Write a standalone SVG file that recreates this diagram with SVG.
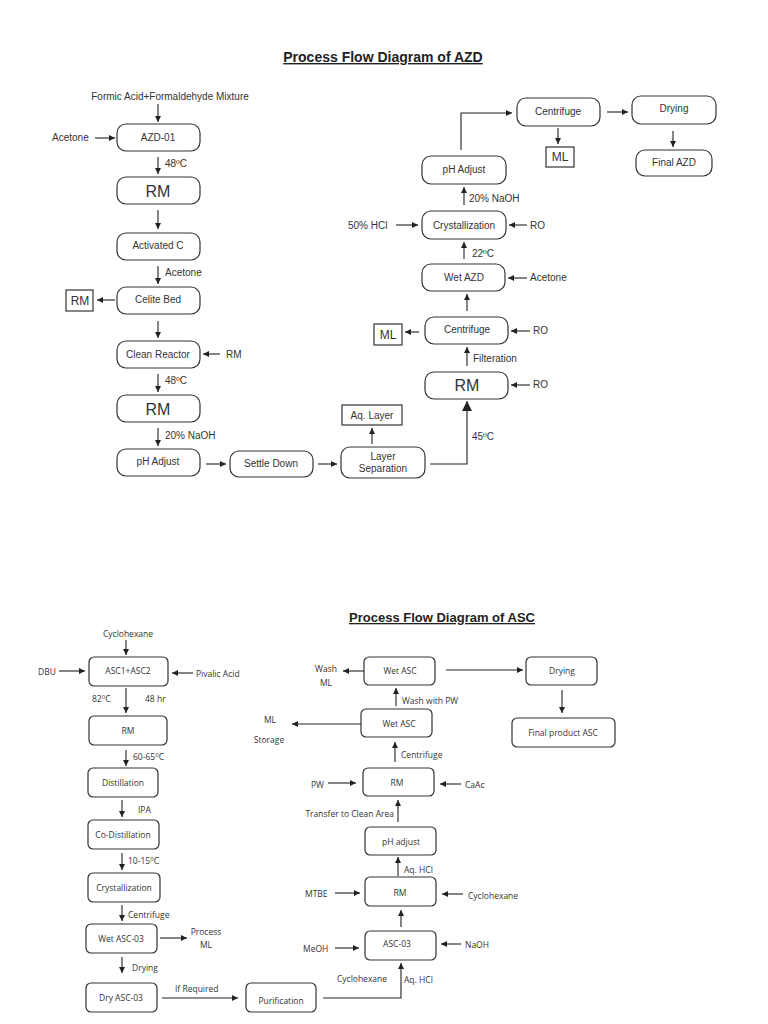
<svg xmlns="http://www.w3.org/2000/svg" width="768" height="1024" viewBox="0 0 768 1024">
<defs>
<marker id="a" markerWidth="8" markerHeight="8" refX="6" refY="3" orient="auto" markerUnits="userSpaceOnUse"><path d="M0,0 L6,3 L0,6 z" fill="#222"/></marker>
<marker id="b" markerWidth="12" markerHeight="12" refX="10" refY="5" orient="auto" markerUnits="userSpaceOnUse"><path d="M0,0 L10,5 L0,10 z" fill="#222"/></marker>
</defs>
<style>
rect{fill:#fff;stroke:#333;stroke-width:1.2}
text{font-family:"Liberation Sans",Arial,sans-serif;font-size:10px;fill:#333}
.c{text-anchor:middle}
.big{font-size:16px}
.t{font-size:14px;font-weight:bold;text-decoration:underline;text-anchor:middle;fill:#222}
.s{font-family:"Open Sans","Liberation Sans",sans-serif;font-size:8.5px}
line,polyline{stroke:#222;stroke-width:1.1;fill:none;marker-end:url(#a)}
</style>
<rect x="0" y="0" width="768" height="1024" style="fill:#fff;stroke:none"/>
<text class="t" x="383" y="62">Process Flow Diagram of AZD</text>
<text class="t" x="442" y="622" style="font-size:13px">Process Flow Diagram of ASC</text>

<g id="azd-nodes">
<g id="n1"><rect x="117" y="124" width="83" height="27" rx="9"/><text class="c" x="158" y="141">AZD-01</text></g>
<g id="n2"><rect x="117" y="177" width="83" height="27" rx="9"/><text class="c big" x="158" y="197">RM</text></g>
<g id="n3"><rect x="117" y="233" width="83" height="27" rx="9"/><text class="c" x="158" y="249">Activated C</text></g>
<g id="n4"><rect x="117" y="287" width="83" height="27" rx="9"/><text class="c" x="158" y="303">Celite Bed</text></g>
<g id="n5"><rect x="66" y="290" width="27" height="21" rx="0"/><text class="c" x="80" y="305" style="font-size:12px">RM</text></g>
<g id="n6"><rect x="117" y="341" width="83" height="27" rx="9"/><text class="c" x="158" y="358">Clean Reactor</text></g>
<g id="n7"><rect x="117" y="395" width="83" height="27" rx="9"/><text class="c big" x="158" y="415">RM</text></g>
<g id="n8"><rect x="117" y="449" width="83" height="27" rx="9"/><text class="c" x="158" y="465">pH Adjust</text></g>
<g id="n9"><rect x="230" y="451" width="83" height="26" rx="9"/><text class="c" x="271" y="467">Settle Down</text></g>
<g id="n10"><rect x="341" y="447" width="84" height="31" rx="9"/><text class="c" x="383" y="460">Layer</text><text class="c" x="383" y="472">Separation</text></g>
<g id="n11"><rect x="342" y="405" width="60" height="20" rx="0"/><text class="c" x="372" y="419">Aq. Layer</text></g>
<g id="n12"><rect x="425" y="372" width="83" height="27" rx="9"/><text class="c big" x="467" y="391">RM</text></g>
<g id="n13"><rect x="425" y="317" width="83" height="27" rx="9"/><text class="c" x="467" y="333">Centrifuge</text></g>
<g id="n14"><rect x="374" y="324" width="28" height="21" rx="0"/><text class="c" x="388" y="339" style="font-size:12px">ML</text></g>
<g id="n15"><rect x="422" y="264" width="83" height="27" rx="9"/><text class="c" x="464" y="281">Wet AZD</text></g>
<g id="n16"><rect x="422" y="211" width="84" height="28" rx="9"/><text class="c" x="464" y="229">Crystallization</text></g>
<g id="n17"><rect x="422" y="156" width="84" height="28" rx="9"/><text class="c" x="464" y="173">pH Adjust</text></g>
<g id="n18"><rect x="517" y="98" width="83" height="28" rx="9"/><text class="c" x="558" y="115">Centrifuge</text></g>
<g id="n19"><rect x="546" y="147" width="28" height="20" rx="0"/><text class="c" x="560" y="161" style="font-size:12px">ML</text></g>
<g id="n20"><rect x="632" y="96" width="84" height="28" rx="9"/><text class="c" x="674" y="112">Drying</text></g>
<g id="n21"><rect x="636" y="150" width="76" height="26" rx="9"/><text class="c" x="674" y="166">Final AZD</text></g>
</g>

<g id="azd-labels">
<text class="c" x="170" y="100">Formic Acid+Formaldehyde Mixture</text>
<text x="52" y="141">Acetone</text>
<text x="165" y="167">48ºC</text>
<text x="165" y="276">Acetone</text>
<text x="226" y="358">RM</text>
<text x="165" y="384">48ºC</text>
<text x="165" y="439">20% NaOH</text>
<text x="472" y="440">45ºC</text>
<text x="533" y="388">RO</text>
<text x="473" y="362">Filteration</text>
<text x="533" y="334">RO</text>
<text x="530" y="281">Acetone</text>
<text x="472" y="257">22ºC</text>
<text x="348" y="229">50% HCl</text>
<text x="530" y="229">RO</text>
<text x="469" y="202">20% NaOH</text>
</g>

<g id="azd-connectors">
<line x1="158" y1="104" x2="158" y2="122"/>
<line x1="95" y1="138" x2="115" y2="138"/>
<line x1="158" y1="157" x2="158" y2="174"/>
<line x1="158" y1="210" x2="158" y2="229"/>
<line x1="158" y1="266" x2="158" y2="284"/>
<line x1="115" y1="300" x2="97" y2="300"/>
<line x1="158" y1="321" x2="158" y2="338"/>
<line x1="220" y1="354" x2="203" y2="354"/>
<line x1="158" y1="374" x2="158" y2="392"/>
<line x1="158" y1="428" x2="158" y2="446"/>
<line x1="206" y1="464" x2="226" y2="464"/>
<line x1="318" y1="464" x2="337" y2="464"/>
<line x1="372" y1="444" x2="372" y2="428"/>
<polyline points="430,464 467,464 467,401" style="marker-end:url(#b)"/>
<line x1="530" y1="385" x2="511" y2="385"/>
<line x1="467" y1="366" x2="467" y2="347"/>
<line x1="419" y1="332" x2="405" y2="332"/>
<line x1="530" y1="331" x2="511" y2="331"/>
<line x1="467" y1="311" x2="467" y2="294"/>
<line x1="527" y1="278" x2="508" y2="278"/>
<line x1="464" y1="259" x2="464" y2="242"/>
<line x1="396" y1="225" x2="418" y2="225"/>
<line x1="527" y1="225" x2="509" y2="225"/>
<line x1="464" y1="205" x2="464" y2="187"/>
<polyline points="461,150 461,113 512,113"/>
<line x1="558" y1="128" x2="558" y2="144"/>
<line x1="607" y1="112" x2="628" y2="112"/>
<line x1="673" y1="131" x2="673" y2="147"/>
</g>

<g id="asc-nodes">
<g id="m1"><rect x="89" y="657" width="79" height="29" rx="5"/><text class="c s" x="128" y="674">ASC1+ASC2</text></g>
<g id="m2"><rect x="89" y="716" width="78" height="29" rx="5"/><text class="c s" x="128" y="734">RM</text></g>
<g id="m3"><rect x="88" y="768" width="70" height="29" rx="5"/><text class="c s" x="123" y="786">Distillation</text></g>
<g id="m4"><rect x="88" y="820" width="71" height="29" rx="5"/><text class="c s" x="123" y="838">Co-Distillation</text></g>
<g id="m5"><rect x="88" y="873" width="72" height="29" rx="5"/><text class="c s" x="124" y="891">Crystallization</text></g>
<g id="m6"><rect x="86" y="924" width="71" height="29" rx="5"/><text class="c s" x="121" y="942">Wet ASC-03</text></g>
<g id="m7"><rect x="86" y="983" width="71" height="29" rx="5"/><text class="c s" x="121" y="1001">Dry ASC-03</text></g>
<g id="m8"><rect x="246" y="983" width="70" height="29" rx="5"/><text class="c s" x="281" y="1004">Purification</text></g>
<g id="m9"><rect x="365" y="931" width="71" height="29" rx="5"/><text class="c s" x="397" y="947">ASC-03</text></g>
<g id="m10"><rect x="365" y="877" width="71" height="29" rx="5"/><text class="c s" x="400" y="896">RM</text></g>
<g id="m11"><rect x="365" y="827" width="71" height="28" rx="5"/><text class="c s" x="401" y="845">pH adjust</text></g>
<g id="m12"><rect x="363" y="768" width="71" height="28" rx="5"/><text class="c s" x="397" y="786">RM</text></g>
<g id="m13"><rect x="361" y="709" width="71" height="28" rx="5"/><text class="c s" x="399" y="727">Wet ASC</text></g>
<g id="m14"><rect x="364" y="657" width="71" height="28" rx="5"/><text class="c s" x="400" y="674">Wet ASC</text></g>
<g id="m15"><rect x="526" y="657" width="71" height="28" rx="5"/><text class="c s" x="562" y="674">Drying</text></g>
<g id="m16"><rect x="512" y="718" width="103" height="29" rx="5"/><text class="c s" x="563" y="736">Final product ASC</text></g>
</g>

<g id="asc-labels">
<text class="c s" x="128" y="637">Cyclohexane</text>
<text class="s" x="38" y="675">DBU</text>
<text class="s" x="196" y="677">Pivalic Acid</text>
<text class="s" x="92" y="702">82<tspan dy="-3" font-size="6">0</tspan><tspan dy="3">C</tspan></text>
<text class="s" x="145" y="702">48 hr</text>
<text class="s" x="133" y="760">60-65<tspan dy="-3" font-size="6">0</tspan><tspan dy="3">C</tspan></text>
<text class="s" x="138" y="813">IPA</text>
<text class="s" x="128" y="864">10-15<tspan dy="-3" font-size="6">0</tspan><tspan dy="3">C</tspan></text>
<text class="s" x="128" y="918">Centrifuge</text>
<text class="c s" x="206" y="935">Process</text>
<text class="c s" x="206" y="948">ML</text>
<text class="s" x="132" y="971">Drying</text>
<text class="s" x="175" y="992">If Required</text>
<text class="c s" x="362" y="982">Cyclohexane</text>
<text class="s" x="404" y="983">Aq. HCl</text>
<text class="s" x="303" y="952">MeOH</text>
<text class="s" x="465" y="948">NaOH</text>
<text class="s" x="305" y="897">MTBE</text>
<text class="s" x="468" y="899">Cyclohexane</text>
<text class="s" x="404" y="873">Aq. HCl</text>
<text class="s" x="394" y="817" text-anchor="end">Transfer to Clean Area</text>
<text class="s" x="311" y="788">PW</text>
<text class="s" x="465" y="788">CaAc</text>
<text class="s" x="401" y="758">Centrifuge</text>
<text class="c s" x="270" y="723">ML</text>
<text class="c s" x="269" y="743">Storage</text>
<text class="s" x="402" y="704">Wash with PW</text>
<text class="c s" x="326" y="672">Wash</text>
<text class="c s" x="326" y="686">ML</text>
</g>

<g id="asc-connectors">
<line x1="126" y1="640" x2="126" y2="655"/>
<line x1="59" y1="671" x2="85" y2="671"/>
<line x1="193" y1="673" x2="172" y2="673"/>
<line x1="126" y1="688" x2="126" y2="713"/>
<line x1="126" y1="750" x2="126" y2="766"/>
<line x1="122" y1="800" x2="122" y2="817"/>
<line x1="122" y1="853" x2="122" y2="870"/>
<line x1="122" y1="905" x2="122" y2="921"/>
<line x1="160" y1="938" x2="187" y2="938"/>
<line x1="122" y1="957" x2="122" y2="973"/>
<line x1="162" y1="998" x2="238" y2="998"/>
<polyline points="323,998 401,998 401,963"/>
<line x1="335" y1="948" x2="359" y2="948"/>
<line x1="461" y1="944" x2="441" y2="944"/>
<line x1="401" y1="927" x2="401" y2="910"/>
<line x1="335" y1="893" x2="360" y2="893"/>
<line x1="463" y1="894" x2="442" y2="894"/>
<line x1="398" y1="876" x2="398" y2="857"/>
<line x1="398" y1="822" x2="398" y2="800"/>
<line x1="328" y1="783" x2="356" y2="783"/>
<line x1="461" y1="784" x2="440" y2="784"/>
<line x1="395" y1="762" x2="395" y2="742"/>
<line x1="361" y1="724" x2="292" y2="724"/>
<line x1="396" y1="706" x2="396" y2="688"/>
<line x1="364" y1="671" x2="343" y2="671"/>
<line x1="446" y1="670" x2="523" y2="670"/>
<line x1="562" y1="690" x2="562" y2="713"/>
</g>
</svg>
